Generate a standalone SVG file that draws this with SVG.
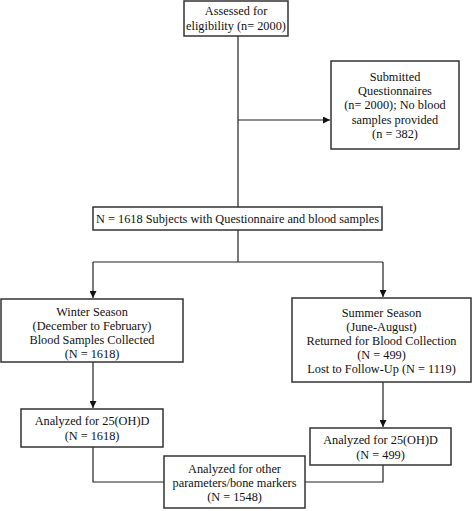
<svg xmlns="http://www.w3.org/2000/svg" width="474" height="511" viewBox="0 0 474 511">
<style>
.box{fill:#fff;stroke:#333;stroke-width:1.5}
.ln{fill:none;stroke:#222;stroke-width:1.2}
text{font-family:'Liberation Serif','Times New Roman',serif;font-size:12.3px;fill:#111;text-anchor:middle}
</style>
<defs>
<marker id="ah" viewBox="0 0 10 10" refX="10" refY="5" markerWidth="7" markerHeight="7" markerUnits="userSpaceOnUse" orient="auto">
<path d="M0,0 L10,5 L0,10 z" fill="#111"/>
</marker>
</defs>
<rect width="474" height="511" fill="#fff"/>
<g id="connectors">
<path class="ln" d="M238,36 V207"/>
<path class="ln" d="M238,120 H330" marker-end="url(#ah)"/>
<path class="ln" d="M238,230 V262"/>
<path class="ln" d="M93,262 H383"/>
<path class="ln" d="M93,262 V298" marker-end="url(#ah)"/>
<path class="ln" d="M383,262 V297" marker-end="url(#ah)"/>
<path class="ln" d="M93,362 V408" marker-end="url(#ah)"/>
<path class="ln" d="M383,382 V427" marker-end="url(#ah)"/>
<path class="ln" d="M93,447 V482 H164"/>
<path class="ln" d="M383,465 V482 H305"/>
</g>
<g id="n1"><rect class="box" x="184" y="1" width="104" height="35"/>
<text x="236" y="15">Assessed for</text><text x="236" y="30">eligibility (n= 2000)</text></g>
<g id="n2"><rect class="box" x="331" y="61" width="128" height="88"/>
<text x="395" y="81">Submitted</text><text x="395" y="95">Questionnaires</text><text x="395" y="109">(n= 2000); No blood</text><text x="395" y="124">samples provided</text><text x="395" y="138">(n = 382)</text></g>
<g id="n3"><rect class="box" x="93" y="207" width="289" height="23"/>
<text x="237.5" y="223">N = 1618 Subjects with Questionnaire and blood samples</text></g>
<g id="n4"><rect class="box" x="1" y="299" width="182" height="63"/>
<text x="92" y="316">Winter Season</text><text x="92" y="330">(December to February)</text><text x="92" y="344">Blood Samples Collected</text><text x="92" y="358">(N = 1618)</text></g>
<g id="n5"><rect class="box" x="292" y="298" width="179" height="84"/>
<text x="381.5" y="317">Summer Season</text><text x="381.5" y="331">(June-August)</text><text x="381.5" y="345">Returned for Blood Collection</text><text x="381.5" y="359">(N = 499)</text><text x="381.5" y="373">Lost to Follow-Up (N = 1119)</text></g>
<g id="n6"><rect class="box" x="21" y="409" width="142" height="38"/>
<text x="92" y="425">Analyzed for 25(OH)D</text><text x="92" y="440">(N = 1618)</text></g>
<g id="n7"><rect class="box" x="310" y="428" width="141" height="37"/>
<text x="380.5" y="444">Analyzed for 25(OH)D</text><text x="380.5" y="459">(N = 499)</text></g>
<g id="n8"><rect class="box" x="164" y="456" width="141" height="52"/>
<text x="234.5" y="473">Analyzed for other</text><text x="234.5" y="487">parameters/bone markers</text><text x="234.5" y="501">(N = 1548)</text></g>
</svg>
